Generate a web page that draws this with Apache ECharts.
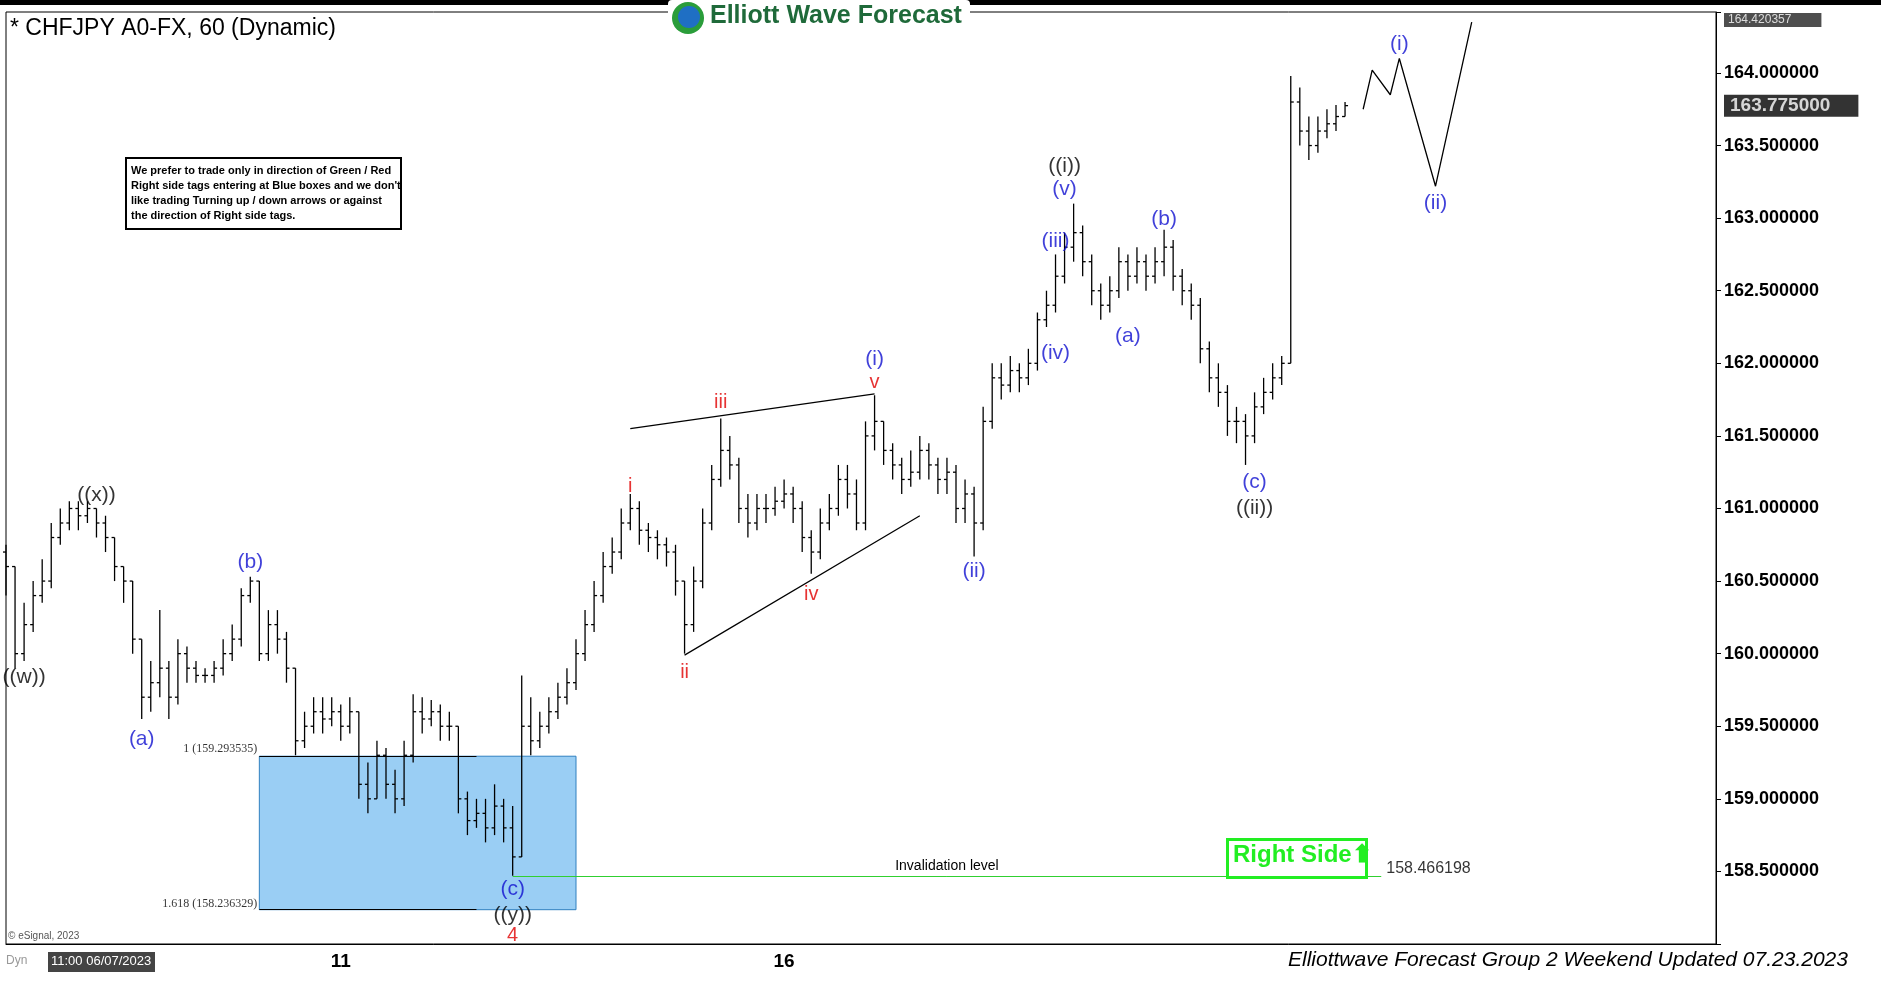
<!DOCTYPE html>
<html><head><meta charset="utf-8">
<script src="https://cdn.jsdelivr.net/npm/echarts@6/dist/echarts.min.js"></script>
<style>html,body{margin:0;padding:0;background:#fff}#c{width:1881px;height:981px}</style>
</head><body><div id="c"></div>
<script>
const N = 190;
const closes = [160.6,160.0,160.2,160.4,160.5,160.8,160.9,161.0,160.95,161.0,160.9,160.8,160.6,160.5,160.1,159.7,159.8,159.9,159.7,160.0,
159.9,159.85,159.85,159.9,160.0,160.1,160.4,160.5,160.0,160.2,160.1,159.9,159.4,159.5,159.6,159.55,159.6,159.5,159.6,159.1,
159.0,159.3,159.1,159.0,159.3,159.6,159.55,159.6,159.5,159.5,159.0,158.85,158.9,158.8,158.95,158.8,158.6,159.5,159.4,159.5,
159.6,159.7,159.8,160.0,160.2,160.4,160.6,160.7,160.9,161.0,160.85,160.8,160.75,160.7,160.5,160.2,160.5,160.9,161.2,161.4,
161.3,161.0,160.9,161.0,161.0,161.05,161.1,161.0,160.8,160.7,160.9,161.0,161.2,161.1,160.9,161.5,161.6,161.4,161.3,161.2,
161.25,161.4,161.3,161.2,161.25,161.0,161.1,160.9,161.6,161.9,161.85,161.95,161.9,162.0,162.3,162.4,162.6,162.8,162.9,162.7,
162.5,162.4,162.5,162.7,162.6,162.7,162.6,162.7,162.8,162.6,162.5,162.4,162.1,161.9,161.8,161.6,161.6,161.5,161.7,161.8,
161.9,162.0,163.8,163.6,163.5,163.6,163.65,163.7,163.775];
const highs = [160.75,160.6,160.35,160.5,160.65,160.9,161.0,161.05,161.05,161.05,161.0,160.95,160.8,160.6,160.5,160.1,159.95,160.3,159.95,160.1,
160.05,159.95,159.9,159.95,160.1,160.2,160.45,160.53,160.5,160.3,160.3,160.15,159.9,159.6,159.7,159.7,159.7,159.65,159.7,159.6,
159.25,159.4,159.35,159.2,159.4,159.72,159.7,159.68,159.65,159.6,159.5,159.05,159.0,159.0,159.1,159.0,158.95,159.85,159.7,159.6,
159.7,159.8,159.9,160.1,160.3,160.5,160.7,160.8,161.0,161.1,161.05,160.9,160.85,160.8,160.75,160.5,160.6,161.0,161.3,161.62,
161.5,161.35,161.1,161.1,161.1,161.15,161.2,161.15,161.05,160.85,161.0,161.1,161.3,161.3,161.2,161.6,161.78,161.6,161.45,161.35,
161.4,161.5,161.45,161.35,161.35,161.3,161.2,161.15,161.7,162.0,162.0,162.05,162.0,162.1,162.35,162.5,162.75,162.9,163.1,162.95,
162.75,162.55,162.6,162.8,162.75,162.8,162.75,162.8,162.92,162.85,162.65,162.55,162.45,162.15,162.0,161.85,161.7,161.65,161.8,161.9,
162.0,162.05,163.98,163.9,163.7,163.7,163.75,163.78,163.8];
const lows = [160.4,159.9,159.95,160.15,160.35,160.45,160.75,160.85,160.85,160.9,160.8,160.7,160.5,160.35,160.0,159.55,159.6,159.7,159.55,159.65,
159.8,159.8,159.8,159.8,159.85,159.95,160.05,160.35,159.95,159.95,160.0,159.8,159.3,159.35,159.45,159.45,159.5,159.4,159.45,159.0,
158.9,159.0,159.0,158.9,158.95,159.25,159.45,159.5,159.4,159.4,158.9,158.75,158.8,158.7,158.75,158.7,158.47,158.6,159.3,159.35,
159.45,159.55,159.65,159.75,159.95,160.15,160.35,160.55,160.65,160.85,160.75,160.7,160.65,160.6,160.4,160.0,160.15,160.45,160.85,161.15,
161.2,160.9,160.8,160.85,160.9,160.95,161.0,160.9,160.7,160.55,160.65,160.85,160.95,161.0,160.85,160.85,161.4,161.3,161.2,161.1,
161.15,161.2,161.2,161.1,161.1,160.9,160.9,160.67,160.85,161.55,161.75,161.8,161.8,161.85,161.95,162.25,162.35,162.55,162.7,162.6,
162.4,162.3,162.35,162.45,162.5,162.55,162.5,162.55,162.6,162.5,162.4,162.3,162.0,161.8,161.7,161.5,161.45,161.3,161.45,161.65,
161.75,161.85,162.0,163.5,163.4,163.45,163.55,163.6,163.7];
const projX = [150,151,153,154,158,162];
const projY = [163.75,164.02,163.85,164.1,163.22,164.35];
const upperX = [69.1,95.9], upperY = [161.55,161.79];
const lowerX = [75,100.7], lowerY = [159.99,160.95];
const tagText  = ['((w))','((x))','(a)','(b)','(c)','((y))','4','i','ii','iii','iv','v','(i)','(ii)','(iii)','(iv)','(v)','((i))','(a)','(b)','(c)','((ii))','(i)','(ii)'];
const tagX     = [2.3,9.7,15.2,27.3,56,56.3,56,69,75,78.8,88.8,95.9,95.7,107,115.7,116.4,117.3,117.2,124,128,137.7,137.7,153.5,157.9];
const tagY     = [159.84,161.09,159.41,160.63,158.38,158.2,158.06,161.15,159.87,161.73,160.41,161.87,162.03,160.57,162.84,162.07,163.2,163.36,162.19,162.99,161.18,161.0,164.2,163.1];
const tagColor = ['k','k','b','b','b','k','r','r','r','r','r','r','b','b','b','b','b','k','b','b','b','k','b','b'];
const dayLabels = {37:'11',86:'16',149:'21'};
const invalid = 158.466198, lastPrice = 163.775;
const boxTop = 159.293535, boxBot = 158.236329;

const cmap = {k:'#000', b:'#1010d0', r:'#e00000'};
const cats = Array.from({length:N},(_,i)=>String(i));
const ohlc = closes.map((c,i)=>[i, i===0?c+0.1:closes[i-1], c, lows[i], highs[i]]);
const chart = echarts.init(document.getElementById('c'));
chart.setOption({
  animation:false,
  grid:{left:6,right:165,top:12,bottom:37,show:true,borderColor:'#000',borderWidth:1},
  xAxis:{type:'category',data:cats,boundaryGap:false,axisTick:{show:false},axisLine:{lineStyle:{color:'#000'}},
    axisLabel:{interval:0,formatter:(v)=>dayLabels[v]||'',fontSize:19,fontWeight:'bold',color:'#000',fontFamily:'Arial'},splitLine:{show:false}},
  yAxis:{type:'value',position:'right',min:158,max:164.42,interval:0.5,scale:true,
    axisLine:{show:true,lineStyle:{color:'#000'}},axisTick:{show:true,length:5,lineStyle:{color:'#000'}},splitLine:{show:false},
    axisLabel:{fontSize:18,fontWeight:'bold',color:'#000',fontFamily:'Arial',margin:8,
      formatter:(v)=> (v>=158.4 && v<=164.01) ? v.toFixed(6) : ''}},
  series:[
    {type:'custom',data:ohlc,z:3,
      renderItem:(params,api)=>{
        const x=api.value(0);
        const o=api.coord([x,api.value(1)]), c=api.coord([x,api.value(2)]);
        const l=api.coord([x,api.value(3)]), h=api.coord([x,api.value(4)]);
        const st={stroke:'#000',lineWidth:1.3};
        return {type:'group',children:[
          {type:'line',shape:{x1:h[0],y1:h[1],x2:l[0],y2:l[1]},style:st},
          {type:'line',shape:{x1:o[0]-3,y1:o[1],x2:o[0],y2:o[1]},style:st},
          {type:'line',shape:{x1:c[0],y1:c[1],x2:c[0]+3,y2:c[1]},style:st}]};
      },
      markArea:{silent:true,itemStyle:{color:'rgba(120,190,240,0.75)',borderColor:'#3080c0',borderWidth:1},
        data:[[{yAxis:boxTop,xAxis:28.4},{yAxis:boxBot,xAxis:63.1}]]},
      markLine:{silent:true,symbol:'none',animation:false,
        data:[
          [{coord:[56,invalid],lineStyle:{color:'#30d030',width:1,type:'solid'},label:{show:true,position:'middle',formatter:'Invalidation level',color:'#000',fontSize:14,distance:3}},{coord:[151.6,invalid]}],
          [{coord:[28.4,boxTop],lineStyle:{color:'#000',width:1,type:'solid'},label:{show:false}},{coord:[52,boxTop]}],
          [{coord:[28.4,boxBot],lineStyle:{color:'#000',width:1,type:'solid'},label:{show:false}},{coord:[52,boxBot]}]
        ]}
    },
    {type:'line',data:projX.map((x,i)=>[x,projY[i]]),symbol:'none',lineStyle:{color:'#000',width:1.3},z:4},
    {type:'line',data:upperX.map((x,i)=>[x,upperY[i]]),symbol:'none',lineStyle:{color:'#000',width:1.2},z:4},
    {type:'line',data:lowerX.map((x,i)=>[x,lowerY[i]]),symbol:'none',lineStyle:{color:'#000',width:1.2},z:4},
    {type:'scatter',symbolSize:0,z:6,
      data:tagText.map((t,i)=>({value:[tagX[i],tagY[i]],label:{show:true,position:'inside',formatter:t,color:cmap[tagColor[i]],fontSize:tagColor[i]==='r'?20:21,fontFamily:'Arial'}}))},
    {type:'scatter',symbolSize:0,z:6,data:[
      {value:[28.2,boxTop],label:{show:true,position:'left',formatter:'1 (159.293535)',fontSize:12,color:'#000',fontFamily:'Times New Roman, Liberation Serif',distance:2,offset:[0,-7]}},
      {value:[28.2,boxBot],label:{show:true,position:'left',formatter:'1.618 (158.236329)',fontSize:12,color:'#000',fontFamily:'Times New Roman, Liberation Serif',distance:2,offset:[0,-6]}},
      {value:[152,invalid],label:{show:true,position:'right',formatter:'158.466198',fontSize:16,color:'#000',fontFamily:'Arial',offset:[0,-8]}},
      {value:[N-1,lastPrice],label:{show:true,position:'right',formatter:lastPrice.toFixed(6),fontSize:19,fontWeight:'bold',color:'#fff',backgroundColor:'#000',padding:[2,28,1,6],fontFamily:'Arial',distance:8}},
      {value:[N-1,164.42],label:{show:true,position:'right',formatter:'164.420357',fontSize:12,color:'#fff',backgroundColor:'#222',padding:[1,30,1,4],fontFamily:'Arial',distance:8,offset:[0,8]}}
    ]}
  ],
  graphic:[
    {type:'rect',left:0,top:0,shape:{width:1881,height:5},style:{fill:'#000'},z:10},
    {type:'text',left:10,top:17,style:{text:'* CHFJPY A0-FX, 60 (Dynamic)',fontSize:23,fill:'#000',fontFamily:'Arial'},z:10},
    {type:'rect',left:668,top:0,shape:{width:302,height:34,r:4},style:{fill:'#fff'},z:10},
    {type:'circle',left:672,top:2,shape:{r:16},style:{fill:'#2a9d3a'},z:11},
    {type:'circle',left:678,top:6,shape:{r:11},style:{fill:'#1f6fc4'},z:11},
    {type:'text',left:710,top:4,style:{text:'Elliott Wave Forecast',fontSize:25,fontWeight:'bold',fill:'#1f6a3a',fontFamily:'Arial'},z:11},
    {type:'rect',left:125,top:157,shape:{width:275,height:71},style:{fill:'#fff',stroke:'#000',lineWidth:2},z:10},
    {type:'text',left:131,top:163,style:{text:"We prefer to trade only in direction of Green / Red\nRight side tags entering at Blue boxes and we don't\nlike trading Turning up / down arrows or against\nthe direction of Right side tags.",fontSize:11,fontWeight:'bold',lineHeight:15,fill:'#000',fontFamily:'Arial'},z:11},
    {type:'rect',left:1226,top:838,shape:{width:139,height:38},style:{fill:'#fff',stroke:'#22ee22',lineWidth:3},z:10},
    {type:'text',left:1233,top:843,style:{text:'Right Side⬆',fontSize:24,fontWeight:'bold',fill:'#22ee22',fontFamily:'Arial'},z:11},
    {type:'rect',left:48,top:952,shape:{width:107,height:20},style:{fill:'#444'},z:10},
    {type:'text',left:51,top:955,style:{text:'11:00 06/07/2023',fontSize:13,fill:'#fff',fontFamily:'Arial'},z:11},
    {type:'text',left:6,top:955,style:{text:'Dyn',fontSize:12,fill:'#999',fontFamily:'Arial'},z:11},
    {type:'text',left:8,top:931,style:{text:'© eSignal, 2023',fontSize:10,fill:'#555',fontFamily:'Arial'},z:11},
    {type:'rect',left:1286,top:946,shape:{width:595,height:35},style:{fill:'#fff'},z:10},
    {type:'text',left:1288,top:950,style:{text:'Elliottwave Forecast Group 2 Weekend Updated 07.23.2023',fontSize:21,fontStyle:'italic',fill:'#000',fontFamily:'Arial'},z:11}
  ]
});
</script></body></html>
